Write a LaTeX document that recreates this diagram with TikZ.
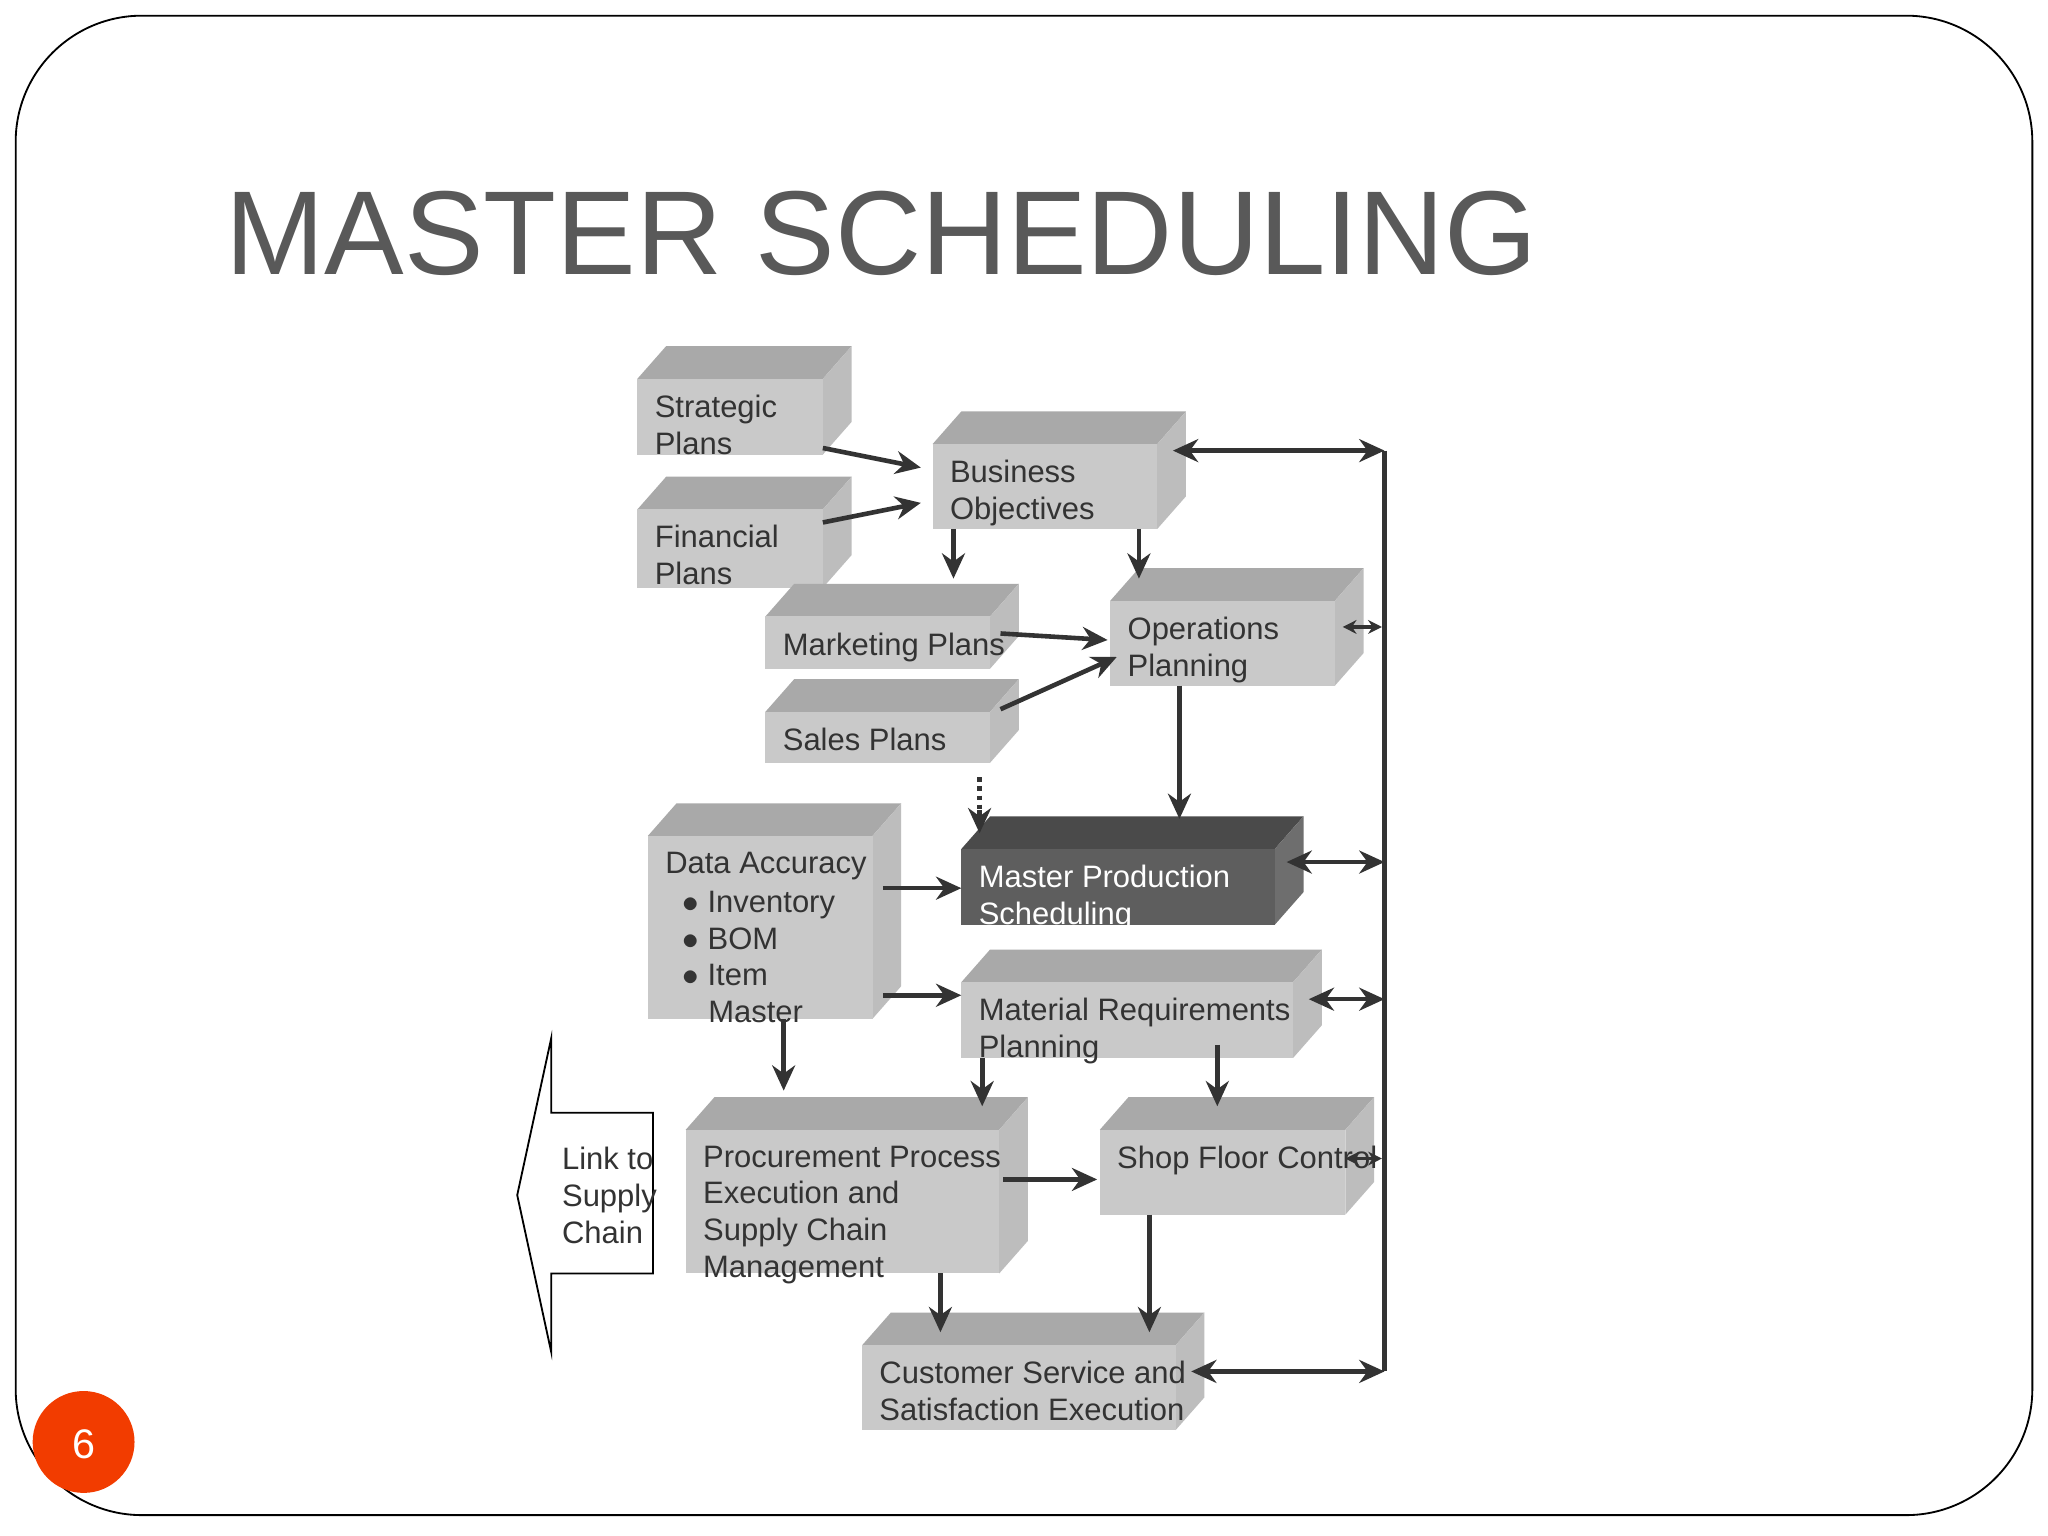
\documentclass[tikz,border=0pt]{standalone}
\usepackage{fontspec}
\setmainfont{Liberation Sans}
\usetikzlibrary{arrows.meta,fit}
\definecolor{frontc}{HTML}{C9C9C9}
\definecolor{topc}{HTML}{A9A9A9}
\definecolor{sidec}{HTML}{BDBDBD}
\definecolor{dfront}{HTML}{5E5E5E}
\definecolor{dtop}{HTML}{4A4A4A}
\definecolor{dside}{HTML}{6E6E6E}
\definecolor{txt}{HTML}{333333}
\colorlet{boxtxt}{txt}
\tikzset{
  ar/.style={line width=2pt,draw=txt,-{Stealth[length=11pt,width=10pt]}},
  dar/.style={line width=2pt,draw=txt,{Stealth[length=11pt,width=10pt]}-{Stealth[length=11pt,width=10pt]}},
  sar/.style={line width=1.5pt,draw=txt,{Stealth[length=6pt,width=6pt]}-{Stealth[length=6pt,width=6pt]}},
  btxt/.style={anchor=north west,align=left,font=\fontsize{13.5pt}{16pt}\selectfont,text=boxtxt,inner sep=0},
}
% name, x1,y1,x2,y2, front,top,side, text
\newcommand\tdbox[9]{%
  \fill[#7] (#2,#3) -- (#2+22,#3-25) -- (#4+22,#3-25) -- (#4,#3) -- cycle;
  \fill[#8] (#4,#3) -- (#4+22,#3-25) -- (#4+22,#5-25) -- (#4,#5) -- cycle;
  \fill[#6] (#2,#3) rectangle (#4,#5);
  \coordinate (#1-nw) at (#2,#3); \coordinate (#1-se) at (#4,#5);
  \node[fit=(#1-nw)(#1-se),inner sep=0] (#1) {};
  \node[btxt] (#1-t) at (#2+13,#3+12) {#9};
}
\begin{document}
\begin{tikzpicture}[x=0.02cm,y=-0.02cm]
\useasboundingbox (0,0) rectangle (1568,1176);
\fill[white] (0,0) rectangle (1568,1176);
\draw[line width=0.8pt,rounded corners=55] (12,12) rectangle (1556,1160);
\node[anchor=base west,inner sep=0,text=black!65,font=\fontsize{52pt}{60pt}\selectfont] (title) at (172,210) {MASTER SCHEDULING};
\fill[orange!50!red!95!black] (64,1104) circle (39);
\node[text=white,font=\fontsize{18pt}{20pt}\selectfont] (pg) at (64,1106) {6};

\tdbox{sp}{488}{290}{630}{348}{frontc}{topc}{sidec}{Strategic\\Plans}
\tdbox{fp}{488}{390}{630}{450}{frontc}{topc}{sidec}{Financial\\Plans}
\tdbox{bo}{714}{340}{886}{405}{frontc}{topc}{sidec}{Business\\Objectives}
\tdbox{mp}{586}{472}{758}{512}{frontc}{topc}{sidec}{Marketing Plans}
\tdbox{slp}{586}{545}{758}{584}{frontc}{topc}{sidec}{Sales Plans}
\tdbox{op}{850}{460}{1022}{525}{frontc}{topc}{sidec}{Operations\\Planning}
\tdbox{da}{496}{640}{668}{780}{frontc}{topc}{sidec}{Data Accuracy\\[1pt]\ \ $\bullet$ Inventory\\\ \ $\bullet$ BOM\\\ \ $\bullet$ Item\\\ \ \ \ \ Master}
\colorlet{boxtxt}{white}
\tdbox{mps}{736}{650}{976}{708}{dfront}{dtop}{dside}{Master Production\\Scheduling}
\colorlet{boxtxt}{txt}
\tdbox{mrp}{736}{752}{990}{810}{frontc}{topc}{sidec}{Material Requirements\\Planning}
\tdbox{pr}{525}{865}{765}{975}{frontc}{topc}{sidec}{Procurement Process\\Execution and\\Supply Chain\\Management}
\tdbox{sf}{842}{865}{1030}{930}{frontc}{topc}{sidec}{Shop Floor Control}
\tdbox{cs}{660}{1030}{900}{1095}{frontc}{topc}{sidec}{Customer Service and\\Satisfaction Execution}

% Link to supply chain
\draw[line width=0.8pt,fill=white] (422,795) -- (422,852) -- (500,852) -- (500,975) -- (422,975) -- (422,1035) -- (396,915) -- cycle;
\node[btxt] (link) at (430,878) {Link to\\Supply\\Chain};

% right bus
\coordinate (bt) at (1060,345);
\coordinate (bb) at (1060,1050);
\draw[line width=2pt,txt] (bt) -- (bb);
\draw[dar] (898,345) -- (bt);
\draw[sar] (1028,480) -- (1058,480);
\draw[dar] (985,660) -- (1060,660);
\draw[dar] (1002,765) -- (1060,765);
\draw[sar] (1030,887) -- (1058,887);
\draw[dar] (912,1050) -- (bb);

% arrows
\draw[ar] (630,343) -- (705,358);
\draw[ar] (630,400) -- (705,385);
\draw[ar] (730,405) -- (730,443);
\draw[ar] (872,405) -- (872,443);
\draw[ar] (766,485) -- (848,490);
\draw[ar] (766,543) -- (855,503);
\draw[ar] (903,525) -- (903,627);
\draw[line width=2pt,txt,dotted] (750,595) -- (750,620);
\draw[ar] (750,620) -- (750,638);
\draw[ar] (676,680) -- (736,680);
\draw[ar] (676,762) -- (736,762);
\draw[ar] (600,780) -- (600,835);
\draw[ar] (752,810) -- (752,847);
\draw[ar] (932,800) -- (932,847);
\draw[ar] (768,903) -- (840,903);
\draw[ar] (720,975) -- (720,1020);
\draw[ar] (880,930) -- (880,1020);
\end{tikzpicture}
\end{document}
